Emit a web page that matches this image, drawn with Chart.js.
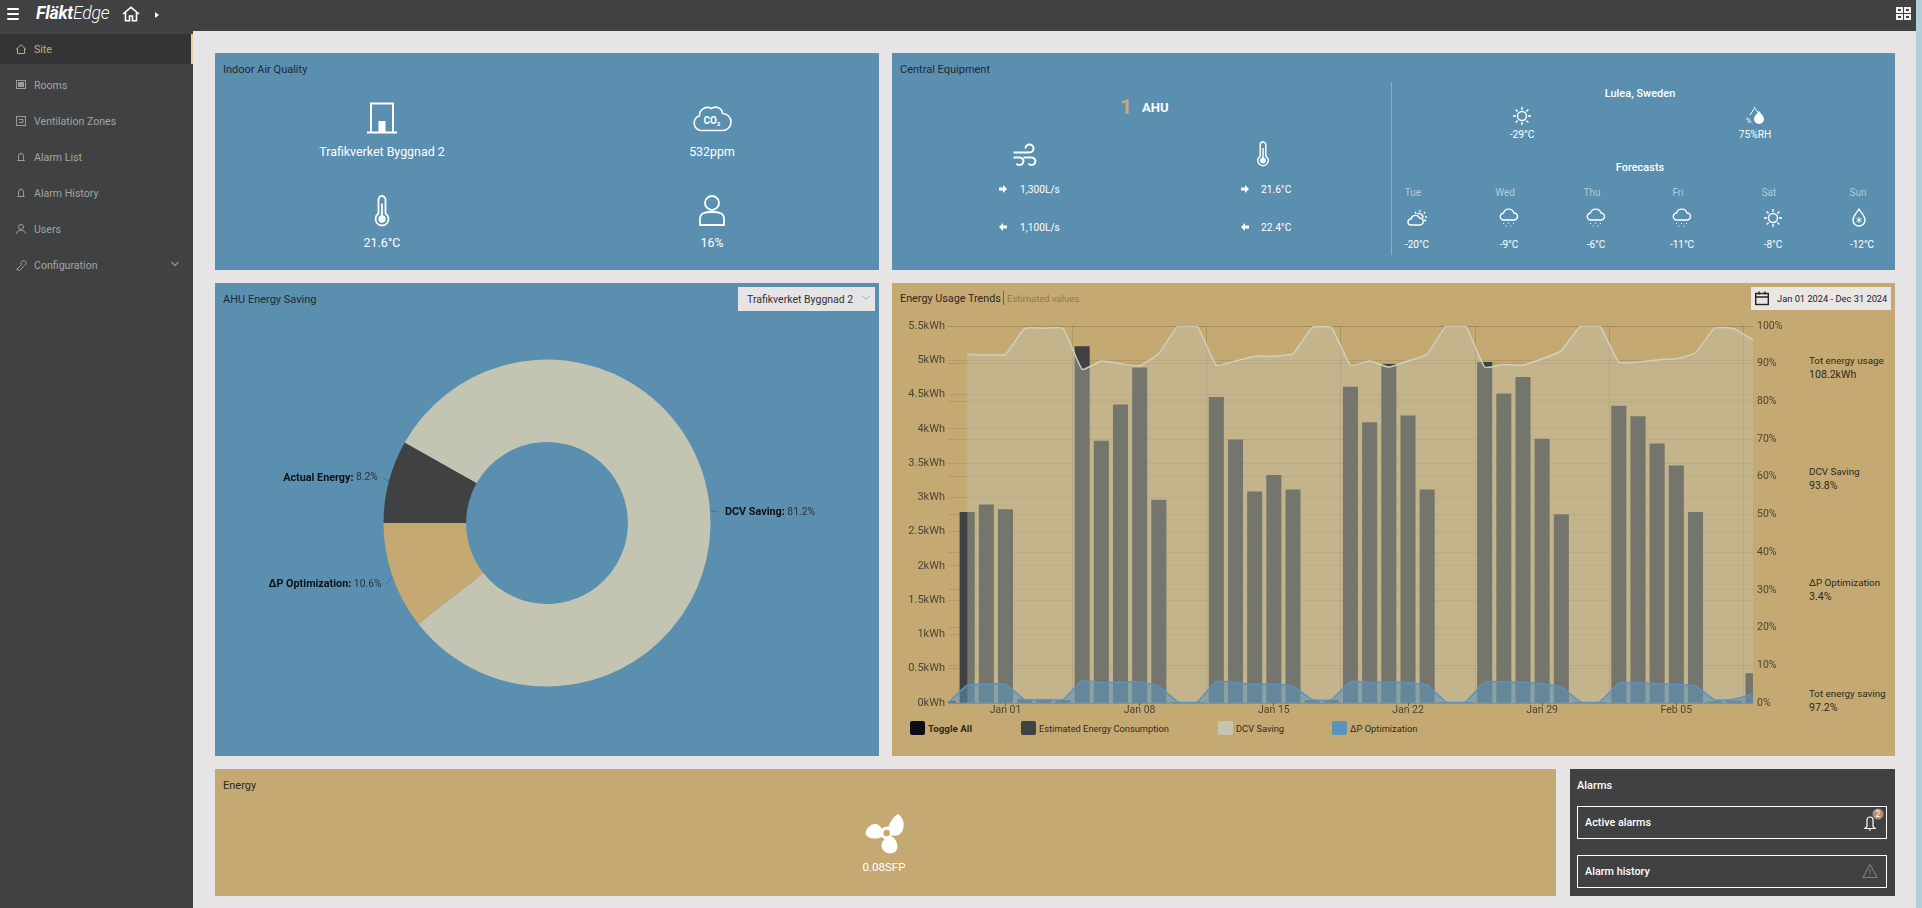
<!DOCTYPE html>
<html>
<head>
<meta charset="utf-8">
<title>FläktEdge</title>
<script src="https://cdn.jsdelivr.net/npm/chart.js@4"></script>
<style>
  html, body { margin: 0; padding: 0; }
  body { width: 1922px; height: 908px; overflow: hidden; position: relative; background: #e6e4e4;
         font-family: Roboto, sans-serif; font-size: 11px; }
  .box { position: absolute; }
  .t { position: absolute; white-space: nowrap; transform: translateY(-50%); line-height: 1; }
  .c { transform: translate(-50%, -50%); }
  svg.i { position: absolute; transform: translate(-50%, -50%); overflow: visible; }
  canvas { position: absolute; }
</style>
</head>
<body>
<div id="page"></div>
<canvas id="trendChart" width="1003" height="473" style="left:892px;top:283px"></canvas>
<canvas id="savingChart" width="664" height="473" style="left:215px;top:283px"></canvas>
<script>
const BLUE = "#5b8fb0", TAN = "#c5a973", DARK = "#404142", PALE = "#c3c5b2", LINE_BLUE = "#5b93bd";

// one entry per day, Dec 29 to Feb 9
const dayLabels = ["Dec 29","Dec 30","Dec 31","Jan 01","Jan 02","Jan 03","Jan 04","Jan 05","Jan 06","Jan 07","Jan 08",
  "Jan 09","Jan 10","Jan 11","Jan 12","Jan 13","Jan 14","Jan 15","Jan 16","Jan 17","Jan 18","Jan 19","Jan 20","Jan 21",
  "Jan 22","Jan 23","Jan 24","Jan 25","Jan 26","Jan 27","Jan 28","Jan 29","Jan 30","Jan 31","Feb 01","Feb 02","Feb 03",
  "Feb 04","Feb 05","Feb 06","Feb 07","Feb 08","Feb 09"];
const energyKwh = [0.02,2.78,2.89,2.82,0.05,0.05,0.04,5.2,3.82,4.35,4.89,2.96,0.01,0.01,4.46,3.84,3.08,3.32,3.11,0.04,0.04,
  4.61,4.09,4.94,4.19,3.11,0.01,0.01,4.97,4.51,4.75,3.85,2.75,0.01,0.01,4.33,4.18,3.78,3.46,2.78,0.02,0.03,0.43];
const dcvPct = [null,92.5,92.3,92.5,99.4,99.4,99.4,88.5,90.7,90,89.4,92.7,100,100,89.6,90.7,92,92,92.6,99.6,99.6,
  89.6,90.7,89.1,90.7,92.5,100,100,89.1,89.8,89.6,91.3,93.4,100,100,90.4,90.4,91,91.3,92.9,99.5,99.3,96.3];
const dpPct = [0,4.7,5,5,0.9,0.9,0.9,5.9,5.4,5.5,5.6,4.4,0.3,0.3,5.7,5.4,5,5,4.4,0.9,0.9,
  5.7,5.4,5.6,5.4,4.7,0.3,0.3,5.6,5.6,5.5,5.1,4.2,0.3,0.3,5.2,5.4,5.1,5,4.5,0.8,1,2.4];
const weekLabels = ["Jan 01","Jan 08","Jan 15","Jan 22","Jan 29","Feb 05"];
const weekGridDays = [6.5,13.5,20.5,27.5,34.5,41.5];

const savingLabels = ["Actual Energy","DCV Saving","ΔP Optimization"];
const savingValues = [8.2,81.2,10.6];
const savingColors = [DARK,PALE,TAN];

const navItems = ["Site","Rooms","Ventilation Zones","Alarm List","Alarm History","Users","Configuration"];
const statNames = ["Tot energy usage","DCV Saving","ΔP Optimization","Tot energy saving"];
const statValues = ["108.2kWh","93.8%","3.4%","97.2%"];
const forecastDays = ["Tue","Wed","Thu","Fri","Sat","Sun"];
const forecastTemps = ["-20°C","-9°C","-6°C","-11°C","-8°C","-12°C"];

const page = document.getElementById("page");
let html = "";
function rect(x, y, w, h, bg, extra) {
  html += `<div class="box" style="left:${x}px;top:${y}px;width:${w}px;height:${h}px;background:${bg};${extra || ""}"></div>`;
}
function text(x, y, s, style, center) {
  html += `<div class="t${center ? " c" : ""}" style="left:${x}px;top:${y}px;${style || ""}">${s}</div>`;
}
function icon(x, y, w, h, body, vb) {
  html += `<svg class="i" style="left:${x}px;top:${y}px" width="${w}" height="${h}" viewBox="${vb || `0 0 ${w} ${h}`}" fill="none" stroke="#fff" stroke-width="1.4">${body}</svg>`;
}

const thermo = `<path d="M5 4a3.5 3.5 0 017 0v14a6.5 6.5 0 11-7 0z" stroke-width="1.8"/><circle cx="8.5" cy="23.5" r="3" fill="#fff"/><path d="M8.5 8v14" stroke-width="1.8"/>`;
const sun = `<circle cx="10" cy="10" r="4.5"/><path d="M10 1v3M10 16v3M1 10h3M16 10h3M3.6 3.6l2 2M14.4 14.4l2 2M3.6 16.4l2-2M14.4 5.6l2-2"/>`;
const snowCloud = `<path d="M5 12a3.5 3.5 0 01-.5-7A5.5 5.5 0 0115 5a3.5 3.5 0 010 7z"/><path d="M4 15.5h1M9 15.5h1M14 15.5h1M6.5 18h1M11.5 18h1" stroke-width="1.2"/>`;
const partCloud = `<path d="M4 17a3 3 0 010-6 4.5 4.5 0 018.5-1 3.5 3.5 0 01.5 7z"/><path d="M13 2v2M8 4l1 1.5M18 4l-1 1.5M20 9h-2M19 13l-2-1"/><path d="M10 6a4 4 0 016 4"/>`;
const dropSnow = `<path d="M7 1c3 5 6 7 6 11a6 6 0 01-12 0c0-4 3-6 6-11z"/><path d="M7 9v6M4.5 10.5l5 3M9.5 10.5l-5 3" stroke-width="1"/>`;
const forecastIcons = [partCloud,snowCloud,snowCloud,snowCloud,sun,dropSnow];
const arrowR = `<path d="M0 2.5h4V0l4 4-4 4V5.5H0z" fill="#fff" stroke="none"/>`;
const arrowL = `<path d="M8 2.5H4V0L0 4l4 4V5.5h4z" fill="#fff" stroke="none"/>`;

// chrome
rect(0,0,1922,31,DARK);
rect(0,31,193,877,DARK);
rect(0,34,191,30,"#333435");
rect(191,34,2,30,"#e3cfa0");
rect(1916,0,6,908,"#b5cfda");
for (const y of [8,13,18]) rect(7,y,12,2.4,"#fff","border-radius:1px;");
text(36,13.5,`<span style="font-weight:700">Fläkt</span><span style="font-weight:300">Edge</span>`,"color:#fff;font-size:17.6px;font-style:italic;letter-spacing:-.2px;");
icon(131,14,16,15,`<path d="M0 7.5L8 .8l8 6.7M2.5 6v8.2h4V9.5h3v4.7h4V6" stroke-width="1.6"/>`);
icon(157,15,4,6,`<path d="M0 0l4 3-4 3z" fill="#fff" stroke="none"/>`);
for (const x of [1896,1904]) for (const y of [7,14]) rect(x,y,7,6,"none","border:2px solid #f2f2f2;box-sizing:border-box;");

const navIcons = [
  `<path d="M.5 6L5.5 1.2 10.5 6M2 5v5h7V5"/>`,
  `<rect x="1" y="1" width="9" height="8"/><rect x="3" y="3" width="5" height="4" fill="#9a9b9b"/>`,
  `<rect x="1" y="1" width="9" height="9"/><path d="M3.5 4h4v3h-4"/>`,
  `<path d="M3 8V4.5a2.5 2.5 0 015 0V8l1 1H2zM5.5 1v1"/>`,
  `<path d="M3 8V4.5a2.5 2.5 0 015 0V8l1 1H2zM5.5 1v1"/>`,
  `<circle cx="5.5" cy="3.5" r="2.5"/><path d="M1 10.5c0-5 9-5 9 0"/>`,
  `<path d="M1 10l5-5a2.5 2.5 0 113 1l-5 5z"/>`];
navItems.forEach((name, i) => {
  const y = 49 + i * 36;
  text(34,y + 1,name,`font-size:10.6px;color:${i === 0 ? TAN : "#a3a4a4"};`);
  html += `<svg class="i" style="left:21px;top:${y}px" width="11" height="11" viewBox="0 0 11 11" fill="none" stroke="${i === 0 ? TAN : "#9a9b9b"}" stroke-width="1">${navIcons[i]}</svg>`;
});
icon(175,264,8,5,`<path d="M.5.5L4 4 7.5.5" stroke="#8c8d8d" stroke-width="1.4"/>`);

// panels
const panels = [[215,53,664,217,BLUE],[892,53,1003,217,BLUE],[215,283,664,473,BLUE],[892,283,1003,473,TAN],[215,769,1341,127,TAN],[1570,769,325,127,DARK]];
for (const p of panels) rect(p[0],p[1],p[2],p[3],p[4]);

const titleStyle = "font-size:11px;color:#1c2a33;";
text(223,69,"Indoor Air Quality",titleStyle);
text(900,69,"Central Equipment",titleStyle);
text(223,299,"AHU Energy Saving",titleStyle);
text(223,785,"Energy","font-size:11px;color:#2d2a22;");
const big = "font-size:12.4px;color:#fff;";

// indoor air quality
icon(382,118,30,32,`<path d="M4 30V1.5h22V30" stroke-width="2"/><path d="M0 30.5h30" stroke-width="2"/><rect x="11.5" y="19" width="7" height="11" fill="#fff" stroke="none"/>`);
text(382,151.5,"Trafikverket Byggnad 2",big,true);
icon(712,118,37,27,`<path d="M8 26a7.5 7.5 0 01-2-14.7A8 8 0 0118 4a7 7 0 0111 5 8.5 8.5 0 010 17z" stroke-width="1.6"/><text x="18.5" y="19" font-size="10" font-weight="700" fill="#fff" stroke="none" text-anchor="middle">CO₂</text>`);
text(712,151.5,"532ppm",big,true);
icon(382,211,17,31,thermo);
text(382,243,"21.6°C",big,true);
icon(712,211,28,32,`<circle cx="14" cy="8" r="7" stroke-width="1.8"/><path d="M2 30v-6c0-6 5-7 12-7s12 1 12 7v6z" stroke-width="1.8"/>`);
text(712,243,"16%",big,true);

// central equipment
rect(1391,82,1,173,"rgba(255,255,255,.3)");
text(1126,107,"1",`font-size:21px;font-weight:700;color:${TAN};`,true);
text(1142,107,"AHU","font-size:13px;font-weight:700;color:#fff;");
icon(1026,154.5,25,21,`<path d="M0 8h16a4 4 0 10-4-4M0 13h6a3.8 3.8 0 11-3 6M10 13h8a3.8 3.8 0 11-3 6" stroke-width="2"/>`);
icon(1263,154,14,25,thermo,"0 0 17 31");
const small = "font-size:10.2px;color:#fff;";
icon(1003,189,8,8,arrowR); text(1020,190,"1,300L/s",small);
icon(1003,227,8,8,arrowL); text(1020,228,"1,100L/s",small);
icon(1245,189,8,8,arrowR); text(1261,190,"21.6°C",small);
icon(1245,227,8,8,arrowL); text(1261,228,"22.4°C",small);
const bold = "font-size:11px;font-weight:500;color:#fff;";
text(1640,93,"Lulea, Sweden",bold,true);
icon(1522,116,20,20,sun);
text(1522,135,"-29°C",small,true);
icon(1756,116,20,20,`<path d="M8 1c2 3 4 5 5 7" stroke-width="1"/><path d="M13 5c2 3 5 5 5 8a5 5 0 01-10 0c0-3 3-5 5-8z" fill="#fff" stroke="none"/><path d="M8 3L4 9" stroke-width="1"/><text x="0" y="17" font-size="7" fill="#fff" stroke="none">%</text>`);
text(1755,135,"75%RH",small,true);
text(1640,167,"Forecasts",bold,true);
const forecastX = [1413,1505,1592,1678,1769,1858];
forecastDays.forEach((d, i) => {
  text(forecastX[i],193,d,"font-size:10px;color:#b4cad8;",true);
  icon(forecastX[i] + 4,218,20,20,forecastIcons[i]);
  text(forecastX[i] + 4,245,forecastTemps[i],"font-size:10px;color:#fff;",true);
});

// select box on the saving panel
rect(738,287,137,24,"#e6e4e4");
text(747,299.5,"Trafikverket Byggnad 2","font-size:10.5px;color:#333;");
icon(866,298,8,5,`<path d="M.5.5L4 4 7.5.5" stroke="#aaa" stroke-width="1"/>`);

// trend panel header, legend and side stats
text(900,299,"Energy Usage Trends","font-size:10.8px;color:#2d2a22;");
rect(1003,291,1,14,"#6f6246");
text(1007,299,"Estimated values","font-size:9.5px;color:#8a7a55;");
rect(1751,287,140,23,"#e9e7e6");
icon(1762,298,14,14,`<rect x=".7" y="2.5" width="12.6" height="11" stroke="#222"/><path d="M.7 6h12.6M4 .5v3M10 .5v3" stroke="#222"/>`);
text(1777,298.5,"Jan 01 2024 - Dec 31 2024","font-size:9.3px;color:#222;");
const legendItems = [[910,"#0d0d15","Toggle All","font-size:9.8px;font-weight:700;"],[1021,DARK,"Estimated Energy Consumption","font-size:9.3px;"],[1218,PALE,"DCV Saving","font-size:9.3px;"],[1332,LINE_BLUE,"ΔP Optimization","font-size:9.3px;"]];
for (const l of legendItems) {
  rect(l[0],721,15,14,l[1],"border-radius:2px;");
  text(l[0] + 18,728.5,l[2],`color:#2d2a22;${l[3]}`);
}
statNames.forEach((name, i) => {
  const y = 360 + i * 111;
  text(1809,y + 1,name,"font-size:9.8px;color:#2d2a22;");
  text(1809,y + 15,statValues[i],"font-size:10.6px;color:#2d2a22;");
});

// energy panel
icon(884.5,834,38,40,`<g fill="#fff" stroke="none"><path d="M22 14C24 8 27 3 32 0 37 3 39 10 37 15 36 20 31 23 26 21z"/><path d="M16 15C12 8 7 9 4 12 1 14-1 17 0 21 2 24 8 26 16 23z"/><path d="M19 25C15 28 14 33 18 37 21 40 26 40 29 38 33 34 32 28 27 23z"/><circle cx="20.7" cy="19" r="6.5"/></g><circle cx="20.7" cy="19" r="3.2" fill="${TAN}" stroke="none"/>`);
text(884,868,"0.08SFP","font-size:11.5px;color:#fff;",true);

// alarms panel
text(1577,785,"Alarms","font-size:11px;font-weight:500;color:#fff;");
rect(1577,806,310,33,"none","border:1.5px solid #fff;box-sizing:border-box;");
rect(1577,855,310,33,"none","border:1.5px solid #fff;box-sizing:border-box;");
text(1585,822.5,"Active alarms","font-size:10.8px;font-weight:500;color:#fff;");
text(1585,871.5,"Alarm history","font-size:10.8px;font-weight:500;color:#fff;");
icon(1870,823,12,17,`<path d="M3 12V5.5a3 3 0 016 0V12l2 2H1zM5 15.5h2" stroke-width="1.2"/>`);
html += `<div class="t c" style="left:1878px;top:814px;width:11px;height:11px;line-height:11px;border-radius:50%;background:#b98d70;color:#fff;font-size:8.5px;text-align:center;">2</div>`;
icon(1870,871,16,15,`<path d="M8 1l7 13H1zM8 5.5v5M8 12v1" stroke="#7a7b7b" stroke-width="1.1"/>`);
page.innerHTML = html;

// charts
Chart.defaults.font.family = 'Roboto, sans-serif';
Chart.defaults.animation = false;

const tickColor = "#4a4535";
new Chart(document.getElementById("trendChart"), {
  data: {
    labels: dayLabels,
    datasets: [
      { type: "bar", label: "Estimated Energy Consumption", data: energyKwh, yAxisID: "yKwh", backgroundColor: DARK, barThickness: 14.4, clip: 0, order: 3 },
      { type: "line", label: "DCV Saving", data: dcvPct, yAxisID: "yPct", borderColor: "#cfd0bd", borderWidth: 1.5, backgroundColor: "rgba(195,197,178,.4)",
        fill: "origin", pointRadius: 0, tension: 0.12, order: 2 },
      { type: "line", label: "ΔP Optimization", data: dpPct, yAxisID: "yPct", borderColor: LINE_BLUE, borderWidth: 1.5, backgroundColor: "rgba(91,147,189,.55)",
        fill: "origin", pointRadius: 0, tension: 0.12, order: 1 }
    ]
  },
  options: {
    responsive: false,
    layout: { padding: { top: 43, right: 102, bottom: 33, left: 0 } },
    plugins: { legend: { display: false }, tooltip: { enabled: false } },
    scales: {
      x: {
        offset: false,
        grid: { offset: false, drawOnChartArea: false, tickLength: 3, color: "#6f6246" },
        border: { display: false },
        ticks: { font: { size: 10.5 }, color: tickColor, autoSkip: false, maxRotation: 0, padding: -2 },
        afterBuildTicks: s => { s.ticks = s.ticks.filter(t => weekLabels.includes(dayLabels[t.value])); },
        afterFit: s => { s.height = 20; }
      },
      xGrid: {
        type: "linear", position: "bottom", min: 0, max: dayLabels.length - 1,
        grid: { color: "rgba(90,75,40,.22)", drawTicks: false },
        border: { display: false },
        ticks: { display: false },
        afterBuildTicks: s => { s.ticks = weekGridDays.map(v => ({ value: v })); },
        afterFit: s => { s.height = 0; }
      },
      yKwh: {
        position: "left", min: 0, max: 5.5,
        grid: { color: "rgba(90,75,40,.16)", drawTicks: false },
        border: { display: false },
        ticks: { stepSize: 0.5, font: { size: 11 }, color: tickColor, padding: 3, callback: v => v + "kWh" },
        afterFit: s => { s.width = 56; }
      },
      yPct: {
        position: "right", min: 0, max: 100,
        grid: { color: "rgba(90,75,40,.16)", drawTicks: false },
        border: { display: false },
        ticks: { stepSize: 10, font: { size: 10.5 }, color: tickColor, padding: 4, callback: v => v + "%" },
        afterFit: s => { s.width = 40; }
      }
    }
  }
});

// name: value labels beside each slice with a short leader
const sliceLabelDy = [-3.5,1.5,7.5];
const sliceLabels = {
  id: "sliceLabels",
  afterDatasetsDraw(chart) {
    const { ctx } = chart;
    chart.getDatasetMeta(0).data.forEach((arc, i) => {
      const { x, y, startAngle, endAngle, outerRadius } = arc.getProps(["x","y","startAngle","endAngle","outerRadius"]);
      const mid = (startAngle + endAngle) / 2;
      const ax = x + Math.cos(mid) * outerRadius, ay = y + Math.sin(mid) * outerRadius;
      const right = Math.cos(mid) > 0;
      const ex = ax + (right ? 8 : -6), ey = ay + sliceLabelDy[i];
      ctx.save();
      ctx.strokeStyle = "rgba(40,60,75,.35)";
      ctx.beginPath(); ctx.moveTo(ax, ay); ctx.lineTo(ex, ey); ctx.stroke();
      ctx.textBaseline = "middle";
      const name = savingLabels[i] + ":", val = " " + savingValues[i] + "%";
      const boldFont = "700 10.8px Roboto", normFont = "10.3px Roboto";
      ctx.font = boldFont; const nameW = ctx.measureText(name).width;
      ctx.font = normFont; const valW = ctx.measureText(val).width;
      const tx = right ? ex + 7 : ex - 5 - nameW - valW;
      ctx.font = boldFont; ctx.fillStyle = "#0d1114"; ctx.fillText(name, tx, ey);
      ctx.font = normFont; ctx.fillStyle = "#2a3338"; ctx.fillText(val, tx + nameW, ey);
      ctx.restore();
    });
  }
};

new Chart(document.getElementById("savingChart"), {
  type: "doughnut",
  data: { labels: savingLabels, datasets: [{ data: savingValues, backgroundColor: savingColors, borderWidth: 0 }] },
  options: {
    responsive: false,
    rotation: -90,
    radius: 163.5,
    cutout: "49.5%",
    layout: { padding: { top: 7 } },
    plugins: { legend: { display: false }, tooltip: { enabled: false } }
  },
  plugins: [sliceLabels]
});
</script>
</body>
</html>
